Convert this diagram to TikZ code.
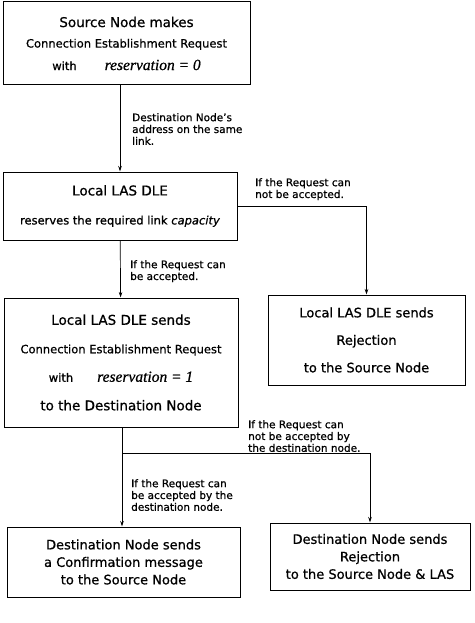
\documentclass[tikz,border=0pt]{standalone}
\usepackage{fontspec}
\setmainfont{DejaVu Sans}[FakeBold=0.8]
\newfontfamily\resvfont{Liberation Serif}[FakeBold=0.8]
\usetikzlibrary{arrows.meta}

\tikzset{
  stepbox/.style={draw, line width=1pt, inner sep=0pt, align=center},
  cond/.style={anchor=north west, inner sep=0pt, align=left,
    font=\fontsize{10.5}{11.8}\selectfont},
  flow/.style={-{Stealth[length=5.5pt,width=3.5pt]}, line width=0.7pt},
}
\newcommand{\titleline}[1]{{\fontsize{13.5}{16}\selectfont #1}}
\newcommand{\resv}[1]{{\resvfont\itshape\fontsize{15.5}{16}\selectfont reservation = #1}}

\begin{document}
\begin{tikzpicture}[x=1pt,y=-1pt]
  \useasboundingbox (0,0) rectangle (474,623);

  % boxes
  \node[stepbox, minimum width=247, minimum height=83,
    font=\fontsize{11.5}{22.5}\selectfont] (src) at (126.5,43.5)
    {\raisebox{-2pt}{\titleline{Source Node makes}}\\
     Connection Establishment Request\\
     with\hspace{28pt}\resv{0}};
  \node[stepbox, minimum width=234, minimum height=68,
    font=\fontsize{11.5}{29}\selectfont] (lasres) at (120,206)
    {\titleline{Local LAS DLE}\\
     reserves the required link \textit{capacity}};
  \node[stepbox, minimum width=234, minimum height=129,
    font=\fontsize{11.5}{28.5}\selectfont] (lassend) at (121,362.5)
    {\titleline{Local LAS DLE sends}\\
     Connection Establishment Request\\
     with\hspace{24pt}\resv{1}\\
     \titleline{to the Destination Node}};
  \node[stepbox, minimum width=197, minimum height=90,
    font=\fontsize{13}{27.5}\selectfont] (lasrej) at (366.5,340)
    {Local LAS DLE sends\\
     Rejection\\
     to the Source Node};
  \node[stepbox, minimum width=233, minimum height=70,
    font=\fontsize{13}{17.5}\selectfont] (dstok) at (123.5,562)
    {Destination Node sends\\
     a Confirmation message\\
     to the Source Node};
  \node[stepbox, minimum width=200, minimum height=67,
    font=\fontsize{13}{17.5}\selectfont] (dstrej) at (370,556.5)
    {Destination Node sends\\
     Rejection\\
     to the Source Node \& LAS};

  % conditions
  \node[cond] (addr) at (132,113) {Destination Node's\\address on the same\\link.};
  \node[cond] (notacc) at (255,178) {If the Request can\\not be accepted.};
  \node[cond] (acc) at (130,260) {If the Request can\\be accepted.};
  \node[cond] (dnotacc) at (248,420) {If the Request can\\not be accepted by\\the destination node.};
  \node[cond] (dacc) at (131,479) {If the Request can\\be accepted by the\\destination node.};

  % connectors
  \coordinate (split) at (122,453);
  \draw[flow] (lasres.north |- src.south) -- (lasres.north);
  \draw[flow] (lasres) -- (lassend);
  \draw[flow] (lasres.east) -| (lasrej.north);
  \draw[line width=0.7pt] (lassend.south -| split) -- (split);
  \draw[flow] (split) -- (split |- dstok.north);
  \draw[flow] (split) -| (dstrej.north);
\end{tikzpicture}
\end{document}
